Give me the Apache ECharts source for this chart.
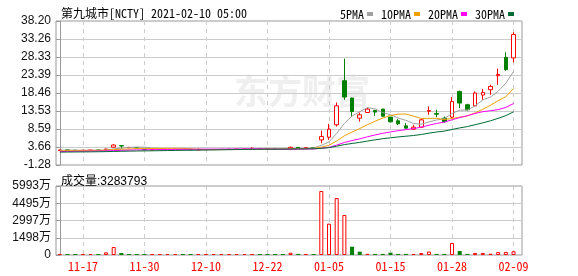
<!DOCTYPE html>
<html><head><meta charset="utf-8">
<script src="https://cdn.jsdelivr.net/npm/echarts@6/dist/echarts.min.js"></script>
<style>html,body{margin:0;padding:0;background:#fff}#c{width:578px;height:276px}</style>
</head><body><div id="c"></div>
<script>
const dates = ['11-12','11-13','11-16','11-17','11-18','11-19','11-20','11-23','11-24','11-25','11-27','11-30','12-01','12-02','12-03','12-04','12-07','12-08','12-09','12-10','12-11','12-14','12-15','12-16','12-17','12-18','12-21','12-22','12-23','12-24','12-28','12-29','12-30','12-31','01-04','01-05','01-06','01-07','01-08','01-11','01-12','01-13','01-14','01-15','01-19','01-20','01-21','01-22','01-25','01-26','01-27','01-28','01-29','02-01','02-02','02-03','02-04','02-05','02-08','02-09'];
const openP = [2.70,2.85,2.78,2.72,2.76,2.82,2.86,3.60,4.02,3.45,3.50,3.05,2.85,3.00,2.94,2.98,3.02,2.95,2.88,2.92,2.95,2.98,3.00,3.02,3.05,3.10,3.10,3.18,3.10,3.05,3.05,3.55,3.36,3.52,5.60,6.34,9.73,21.83,17.07,11.57,13.11,13.66,14.05,11.85,10.83,9.45,8.54,9.09,13.45,12.85,11.57,11.85,18.89,15.23,14.95,17.90,19.36,23.20,28.24,28.08];
const closeP = [2.85,2.78,2.72,2.76,2.80,2.78,3.10,4.20,3.95,3.55,3.40,2.90,2.92,2.94,2.98,3.02,2.95,2.88,2.92,2.95,2.98,3.00,3.02,3.05,3.08,3.30,3.18,3.10,3.05,3.00,3.58,3.38,3.52,3.40,6.51,8.54,14.95,17.35,13.39,12.48,14.05,13.22,12.10,10.55,10.00,8.82,9.09,11.10,13.65,12.65,10.63,16.14,15.70,13.85,18.45,18.61,20.26,23.55,24.86,34.49];
const lowP = [2.62,2.72,2.66,2.68,2.70,2.72,2.82,3.50,3.15,3.30,3.35,2.85,2.78,2.88,2.88,2.92,2.90,2.82,2.80,2.86,2.90,2.92,2.95,2.98,3.00,3.05,3.05,3.05,2.98,2.95,3.00,3.30,3.28,3.32,4.69,5.60,9.26,16.60,12.01,10.63,13.03,12.20,12.01,10.40,9.65,8.71,8.35,8.98,12.48,11.85,10.36,11.57,14.32,13.66,14.76,16.60,17.98,20.73,24.58,26.87];
const highP = [2.90,2.92,2.82,2.80,2.84,2.86,3.18,4.45,4.05,3.70,3.62,3.10,2.98,3.04,3.02,3.08,3.06,3.25,3.25,3.00,3.02,3.05,3.08,3.10,3.14,3.55,3.25,3.22,3.15,3.08,3.72,3.60,3.58,3.56,8.16,10.00,15.86,27.88,17.20,13.11,14.40,13.85,14.10,11.90,11.30,10.19,9.73,11.38,14.77,13.85,12.01,17.35,19.08,15.50,18.89,19.55,20.73,25.13,29.62,35.12];
const volume = [900000,800000,800000,900000,850000,800000,2300000,6950000,1750000,800000,700000,800000,800000,750000,750000,800000,750000,750000,800000,800000,800000,800000,750000,750000,800000,850000,800000,800000,750000,800000,2000000,950000,900000,900000,55600000,27200000,49500000,34750000,7200000,2900000,1000000,950000,950000,2000000,950000,950000,950000,1700000,3000000,950000,950000,10400000,3500000,950000,1800000,1800000,1100000,2500000,2700000,3283793];
const ma5 = [2.78,2.80,2.78,2.77,2.78,2.76,2.84,3.12,3.37,3.52,3.64,3.60,3.34,3.14,3.03,2.95,2.96,2.95,2.95,2.94,2.94,2.97,2.99,3.02,3.05,3.11,3.13,3.14,3.14,3.13,3.18,3.22,3.31,3.38,4.08,5.07,7.38,10.15,12.15,13.34,14.44,14.10,13.07,12.50,11.60,10.96,10.11,9.91,10.53,11.06,11.42,12.83,13.75,13.79,14.95,16.55,17.37,18.94,21.15,24.35];
const ma10 = [2.60,2.64,2.67,2.70,2.73,2.74,2.77,2.92,3.04,3.12,3.20,3.22,3.24,3.26,3.28,3.30,3.28,3.15,3.05,2.99,2.94,2.95,2.96,2.98,2.99,3.01,3.04,3.06,3.07,3.08,3.14,3.17,3.22,3.26,3.60,4.13,5.30,6.73,7.76,8.71,9.76,10.74,11.60,12.31,12.66,12.69,12.11,11.48,11.51,11.52,11.18,11.47,11.83,12.16,13.01,13.99,15.10,16.35,17.47,19.65];
const ma20 = [2.40,2.43,2.46,2.49,2.52,2.55,2.59,2.67,2.74,2.80,2.85,2.89,2.92,2.95,2.98,3.01,3.03,3.04,3.05,3.07,3.08,3.09,3.10,3.12,3.13,3.15,3.16,3.10,3.06,3.03,3.04,3.06,3.09,3.12,3.29,3.57,4.17,4.89,5.42,5.89,6.45,6.96,7.41,7.79,8.13,8.41,8.70,9.10,9.63,10.12,10.47,11.11,11.72,12.24,12.84,13.34,13.60,13.91,14.49,15.59];
const ma30 = [2.25,2.27,2.29,2.31,2.33,2.36,2.39,2.44,2.48,2.52,2.56,2.59,2.62,2.65,2.68,2.71,2.74,2.77,2.80,2.83,2.86,2.89,2.92,2.95,2.98,3.01,3.03,3.05,3.06,3.07,3.10,3.12,3.14,3.17,3.29,3.48,3.87,4.31,4.63,4.92,5.28,5.62,5.93,6.18,6.42,6.61,6.81,7.09,7.45,7.77,8.02,8.46,8.89,9.25,9.76,10.27,10.84,11.52,12.25,13.30];
const xTickDates = ['11-17','11-30','12-10','12-22','01-05','01-15','01-28','02-09'];
const yTickLabels = ['-1.28','3.66','8.59','13.53','18.46','23.39','28.33','33.26','38.20'];
const volTickLabels = ['0','1498万','2997万','4495万','5993万'];
const volMax = 59930000;
const titleText = '第九城市[NCTY] 2021-02-10 05:00';
const volTitle = '成交量:3283793';

const MONO = "'Noto Sans Mono CJK SC','Noto Sans CJK SC',monospace";
const SANS = "'Liberation Sans','Noto Sans CJK SC',sans-serif";
const xTicks = xTickDates.map(d => dates.indexOf(d));
const yVals = yTickLabels.map(Number);
const volVals = volTickLabels.map((s, i) => volMax / (volTickLabels.length - 1) * i);

const candleData = dates.map((d, i) => [i, openP[i], closeP[i], lowP[i], highP[i]]);
const volData = volume.map((v, i) => {
  const up = i === 0 || closeP[i] >= closeP[i - 1];
  return {value: [i, v], itemStyle: up ? {color: '#fff', borderColor: '#f00', borderWidth: 1} : {color: '#008000', borderWidth: 0}};
});
const line = (name, arr, color) => ({
  name, type: 'line', xAxisIndex: 0, yAxisIndex: 0,
  data: arr.map((v, i) => [i, v]), showSymbol: false, symbol: 'none',
  lineStyle: {width: 1, color}, itemStyle: {color}, z: 3
});
const xCommon = (gi, showLabel) => ({
  type: 'value', gridIndex: gi, min: -0.5, max: 60.1,
  axisLine: {show: false},
  axisTick: {show: false, customValues: xTicks},
  axisLabel: {show: showLabel, customValues: xTicks, formatter: v => dates[Math.round(v)] || '',
    color: '#f00', fontFamily: MONO, fontSize: 12, margin: 5},
  splitLine: {show: true, lineStyle: {color: '#ccc', type: [4, 4], width: 1}}
});

const chart = echarts.init(document.getElementById('c'), null, {renderer: 'canvas'});
chart.setOption({
  animation: false,
  backgroundColor: '#fff',
  title: [
    {text: titleText, left: 56, top: 2, textStyle: {fontFamily: MONO, fontSize: 12, fontWeight: 'normal', color: '#000'}},
    {text: volTitle, left: 56, top: 171, textStyle: {fontFamily: SANS, fontSize: 12, fontWeight: 'normal', color: '#000'}}
  ],
  legend: {
    left: 335, top: 3, align: 'right', itemGap: 8, itemWidth: 6, itemHeight: 4, icon: 'rect',
    data: ['5PMA', '10PMA', '20PMA', '30PMA'],
    textStyle: {fontFamily: MONO, fontSize: 12, color: '#000', padding: [0, -2, 0, 0]}
  },
  graphic: [{type: 'text', left: 234, top: 74, z: 0, silent: true,
    style: {text: '东方财富', font: "bold 34px 'Noto Sans CJK SC'", fill: '#efefef'}}],
  grid: [
    {left: 56, right: 56, top: 21, bottom: 111, show: true, borderColor: '#999', borderWidth: 1, backgroundColor: 'transparent'},
    {left: 56, right: 56, top: 186, bottom: 21, show: true, borderColor: '#999', borderWidth: 1, backgroundColor: 'transparent'}
  ],
  xAxis: [xCommon(0, false), xCommon(1, true)],
  yAxis: [
    {type: 'value', gridIndex: 0, min: -1.28, max: 38.20, scale: true,
      axisLine: {show: true, lineStyle: {color: '#999'}},
      axisTick: {show: true, length: 4, customValues: yVals, lineStyle: {color: '#999'}},
      axisLabel: {customValues: yVals, formatter: v => v.toFixed(2), color: '#111', fontFamily: SANS, fontSize: 12, margin: 5},
      splitLine: {show: true, lineStyle: {color: '#ccc', width: 1}}},
    {type: 'value', gridIndex: 1, min: 0, max: volMax,
      axisLine: {show: true, lineStyle: {color: '#999'}},
      axisTick: {show: true, length: 4, customValues: volVals, lineStyle: {color: '#999'}},
      axisLabel: {customValues: volVals, formatter: (v) => volTickLabels[Math.round(v / (volMax / 4))], color: '#111', fontFamily: SANS, fontSize: 12, margin: 5},
      splitLine: {show: true, lineStyle: {color: '#ccc', width: 1}}}
  ],
  series: [
    {name: 'K', type: 'candlestick', xAxisIndex: 0, yAxisIndex: 0, data: candleData,
      encode: {x: 0, y: [1, 2, 3, 4]}, barWidth: 4,
      itemStyle: {color: '#fff', color0: '#008000', borderColor: '#f00', borderColor0: '#008000', borderWidth: 1}, z: 2},
    line('5PMA', ma5, '#a0a0a0'),
    line('10PMA', ma10, '#f0a000'),
    line('20PMA', ma20, '#ff00ff'),
    line('30PMA', ma30, '#006a35'),
    {name: 'VOL', type: 'bar', xAxisIndex: 1, yAxisIndex: 1, data: volData, barWidth: 4, barMinHeight: 1}
  ]
});
</script></body></html>
